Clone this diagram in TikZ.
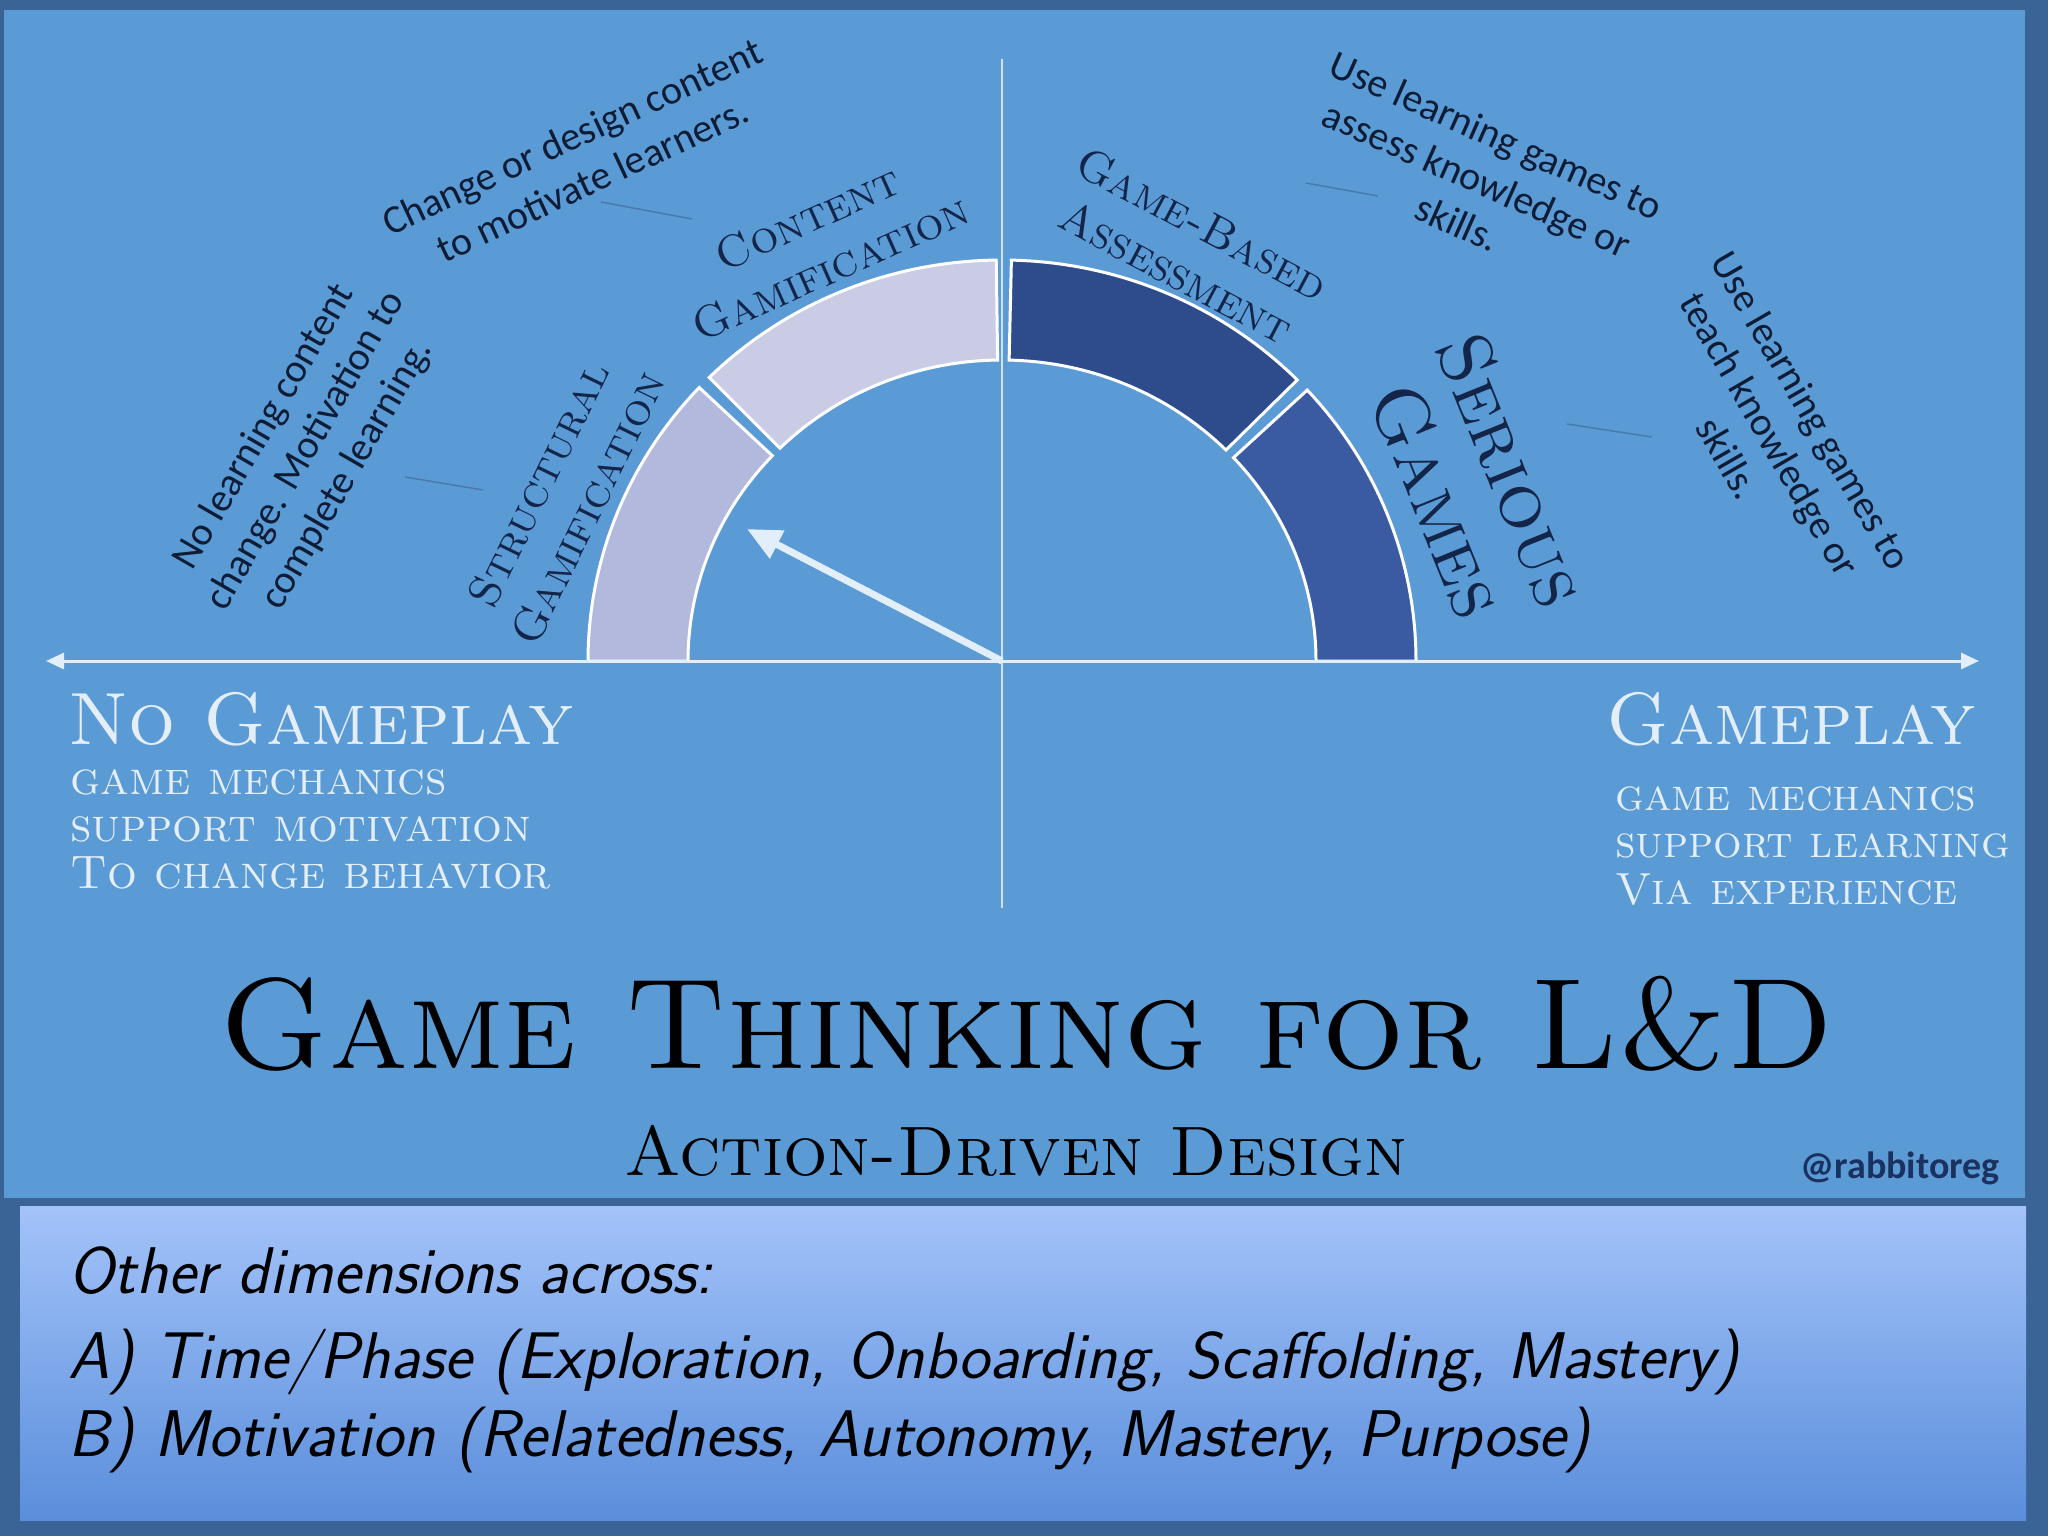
\documentclass[tikz,border=0pt]{standalone}
\usepackage{fontspec}
\usepackage{tikz}
\usetikzlibrary{arrows.meta}
\newfontfamily\calibfont{Carlito}

\definecolor{framecol}{HTML}{3A6396}
\definecolor{panelcol}{HTML}{5B9BD5}
\definecolor{lowtop}{HTML}{A3C3F9}
\definecolor{lowbot}{HTML}{5A8EDB}
\definecolor{structcol}{HTML}{B3B9DC}
\definecolor{contentcol}{HTML}{C9CCE4}
\definecolor{assesscol}{HTML}{2E4C8C}
\definecolor{seriouscol}{HTML}{3A5AA2}
\definecolor{axiscol}{HTML}{E2EFFB}
\definecolor{vlinecol}{HTML}{CFE3F5}
\definecolor{labelcol}{HTML}{14254A}
\definecolor{desccol}{HTML}{0E1C36}
\definecolor{sidecol}{HTML}{E4EEF8}
\definecolor{handlecol}{HTML}{1B3260}

\tikzset{
  segment/.style={draw=white, line width=3pt},
  desctext/.style={font=\calibfont\fontsize{40}{48}\selectfont, text=desccol, align=center},
  cattext/.style={font=\fontsize{45}{55}\selectfont\scshape, text=labelcol, align=center},
  sidehead/.style={font=\fontsize{74}{80}\selectfont\scshape, text=sidecol, anchor=base west, inner sep=0pt},
  sidetext/.style={font=\fontsize{47}{50}\selectfont\scshape, text=sidecol, anchor=base west, inner sep=0pt},
  handtext/.style={font=\sffamily\itshape\fontsize{66}{72}\selectfont, text=black, anchor=base west, inner sep=0pt},
  leader/.style={draw=desccol, opacity=0.25, line width=1.5pt},
}

\begin{document}
\begin{tikzpicture}[x=1pt,y=1pt,yscale=-1]
\useasboundingbox (0,0) rectangle (2048,1536);

%Frame and panels
\fill[framecol] (0,0) rectangle (2048,1536);
\fill[panelcol] (4,10) rectangle (2025,1198);
\shade[top color=lowtop, bottom color=lowbot] (20,1206) rectangle (2026,1520);

%Axis points
\coordinate (o) at (1002,661);
\coordinate (axl) at (46,661);
\coordinate (axr) at (1979,661);
\coordinate (vtop) at (1002,59);
\coordinate (vbot) at (1002,908);
\coordinate (tip) at (747,529);

%Vertical line
\draw[draw=vlinecol, line width=2pt] (vtop) -- (vbot);

%Ring segments
\begin{scope}[shift={(o)}]
\draw[segment, fill=structcol] (-180:414 and 401) arc[start angle=-180, end angle=-137, x radius=414, y radius=401]
  -- (-137:314 and 301) arc[start angle=-137, end angle=-180, x radius=314, y radius=301] -- cycle;
\draw[segment, fill=contentcol] (-135:414 and 401) arc[start angle=-135, end angle=-90.8, x radius=414, y radius=401]
  -- (-90.8:314 and 301) arc[start angle=-90.8, end angle=-135, x radius=314, y radius=301] -- cycle;
\draw[segment, fill=assesscol] (-88.7:414 and 401) arc[start angle=-88.7, end angle=-44.5, x radius=414, y radius=401]
  -- (-44.5:314 and 301) arc[start angle=-44.5, end angle=-88.7, x radius=314, y radius=301] -- cycle;
\draw[segment, fill=seriouscol] (-42.5:414 and 401) arc[start angle=-42.5, end angle=0, x radius=414, y radius=401]
  -- (0:314 and 301) arc[start angle=0, end angle=-42.5, x radius=314, y radius=301] -- cycle;
\end{scope}

%Horizontal axis
\draw[{Triangle[length=18pt,width=16pt]}-{Triangle[length=18pt,width=16pt]}, line width=3pt, draw=axiscol, fill=axiscol] (axl) -- (axr);

%Pointer
\draw[-{Triangle[length=34pt,width=30pt]}, line width=7pt, draw=axiscol, fill=axiscol] (o) -- (tip);

%Category labels
\node[cattext, rotate=64] (structural) at (563,496) {Structural\\Gamification};
\node[cattext, rotate=24] (content) at (819,243) {Content\\Gamification};
\node[cattext, rotate=-28] (assessment) at (1189,248) {Game-Based\\Assessment};
\node[cattext, rotate=-68, font=\fontsize{76}{80}\selectfont\scshape] (serious) at (1475,485) {Serious\\Games};

%Descriptions
\node[desctext, rotate=25] (changedesc) at (582,158) {Change or design content\\to motivate learners.};
\node[desctext, rotate=60] (nochangedesc) at (306,451) {No learning content\\change. Motivation to\\complete learning.};
\node[desctext, rotate=-24] (assessdesc) at (1477,179) {Use learning games to\\assess knowledge or\\skills.};
\node[desctext, rotate=-60] (teachdesc) at (1770,434) {Use learning games to\\teach knowledge or\\skills.};

%Leader lines
\coordinate (l1a) at (601,202); \coordinate (l1b) at (692,219);
\coordinate (l2a) at (405,477); \coordinate (l2b) at (483,490);
\coordinate (l3a) at (1306,183); \coordinate (l3b) at (1378,196);
\coordinate (l4a) at (1567,424); \coordinate (l4b) at (1652,437);
\draw[leader] (l1a) -- (l1b);
\draw[leader] (l2a) -- (l2b);
\draw[leader] (l3a) -- (l3b);
\draw[leader] (l4a) -- (l4b);

%Left side texts
\node[sidehead] (nogame) at (68,744) {No Gameplay};
\node[sidetext] (nog1) at (70,794) {game mechanics};
\node[sidetext] (nog2) at (70,841) {support motivation};
\node[sidetext] (nog3) at (70,888) {To change behavior};

%Right side texts
\node[sidehead] (game) at (1606,744) {Gameplay};
\node[sidetext, font=\fontsize{45}{50}\selectfont\scshape] (g1) at (1615,810) {game mechanics};
\node[sidetext, font=\fontsize{45}{50}\selectfont\scshape] (g2) at (1615,857) {support learning};
\node[sidetext, font=\fontsize{45}{50}\selectfont\scshape] (g3) at (1615,904) {Via experience};

%Titles
\node[font=\fontsize{129}{135}\selectfont\scshape, text=black, anchor=base] (title) at (1027,1068) {Game Thinking for L\&D};
\node[font=\fontsize{70}{76}\selectfont\scshape, text=black, anchor=base] (subtitle) at (1016,1175) {Action-Driven Design};
\node[font=\calibfont\bfseries\fontsize{38}{42}\selectfont, text=handlecol, anchor=base] (handle) at (1900,1178) {@rabbitoreg};

%Lower panel text
\node[handtext] (other) at (68,1293) {Other dimensions across:};
\node[handtext] (dima) at (68,1378) {A) Time/Phase (Exploration, Onboarding, Scaffolding, Mastery)};
\node[handtext] (dimb) at (68,1456) {B) Motivation (Relatedness, Autonomy, Mastery, Purpose)};

\end{tikzpicture}
\end{document}
